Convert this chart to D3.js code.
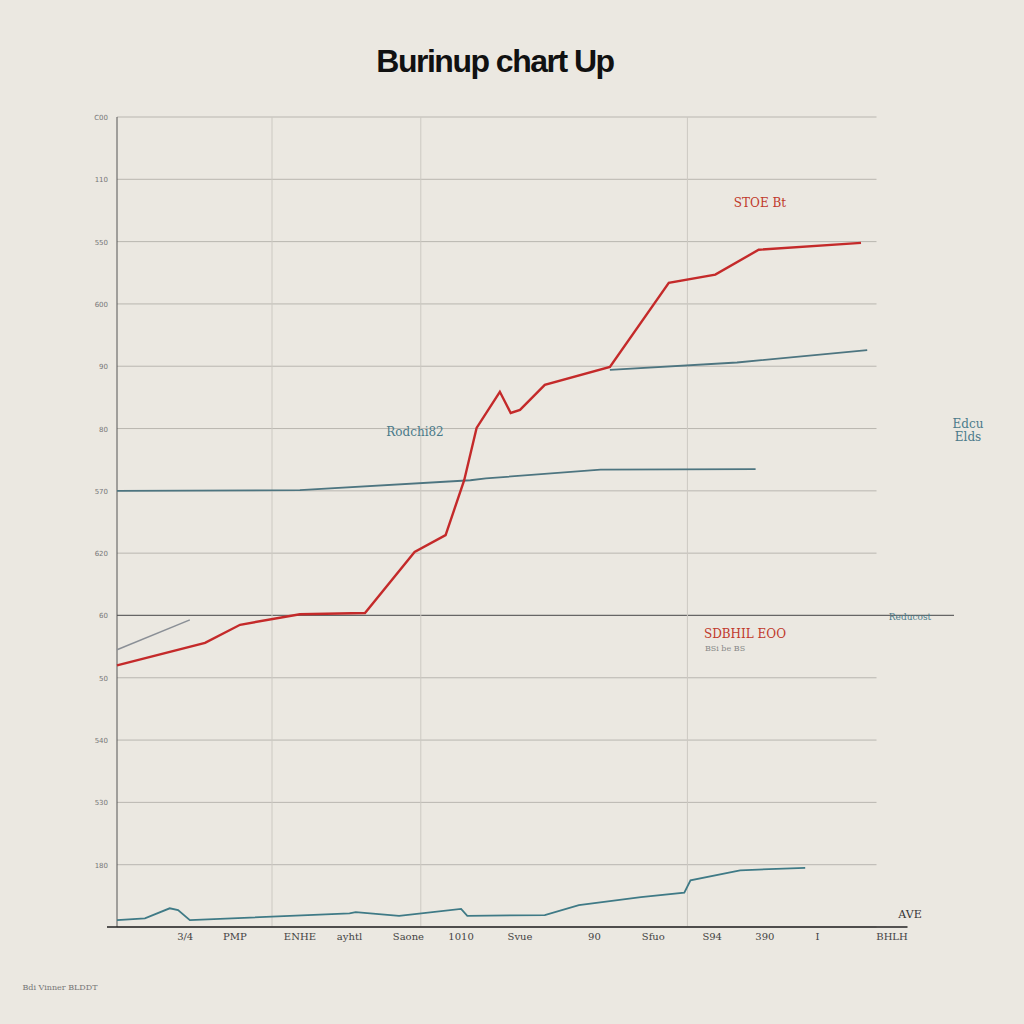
<!DOCTYPE html>
<html><head><meta charset="utf-8">
<script src="https://cdn.jsdelivr.net/npm/d3@7"></script>
<style>body{margin:0;background:#ebe8e1}</style></head>
<body><svg id="c" width="1024" height="1024"></svg>
<script>
const redSeries=[[0,42],[2.84,45.6],[3.97,48.5],[5.9,50.2],[8,50.4],[9.6,60.2],[10.6,62.9],[11.2,71.7],[11.6,80.1],[12.35,85.9],[12.7,82.5],[13,83],[13.8,87],[15.9,89.9],[17.8,103.4],[19.3,104.7],[20.7,108.7],[24,109.8]];
const tealUpper=[[15.9,89.4],[20,90.6],[24.2,92.6]];
const tealMiddle=[[0,70],[5.9,70.1],[11.4,71.7],[11.9,72],[15.6,73.4],[20.6,73.5]];
const tealBottom=[[0,1.1],[0.9,1.4],[1.7,3],[1.97,2.7],[2.35,1.1],[7.5,2.2],[7.7,2.4],[9.1,1.8],[11.1,2.9],[11.3,1.8],[13.8,1.9],[14.9,3.5],[16.9,4.8],[18.3,5.5],[18.5,7.5],[20.1,9.1],[22.2,9.5]];
const greySeries=[[0,44.5],[2.35,49.3]];
const gridY=[0,10,20,30,40,50,60,70,80,90,100,110,120,130];
const yTickLabels=["","180","530","540","50","60","620","570","80","90","600","550","110","C00"];
const gridX=[5,9.8,18.4];
const xTickLabels=[[2.2,"3/4"],[3.8,"PMP"],[5.9,"ENHE"],[7.5,"ayhtl"],[9.4,"Saone"],[11.1,"1010"],[13,"Svue"],[15.4,"90"],[17.3,"Sfuo"],[19.2,"S94"],[20.9,"390"],[22.6,"I"],[25,"BHLH"]];
const svg=d3.select("#c");
const x=d3.scaleLinear().domain([0,25]).range([117,892]);
const y=d3.scaleLinear().domain([0,130]).range([927,117]);
svg.append("text").attr("x",495).attr("y",72).attr("text-anchor","middle").attr("font-family","Liberation Sans").attr("font-weight","bold").attr("font-size",32).attr("letter-spacing","-1.5").attr("fill","#111").text("Burinup chart Up");
const g=svg.append("g");
gridY.forEach((v,i)=>{g.append("line").attr("x1",x(0)).attr("x2",i==5?x(27):x(24.5)).attr("y1",y(v)).attr("y2",y(v)).attr("stroke",i==5?"#666":"#b9b6b0").attr("stroke-width",i==5?1.2:1);
 g.append("text").attr("x",108).attr("y",y(v)+3).attr("text-anchor","end").attr("font-size",7).attr("font-family","DejaVu Sans").attr("fill","#777").text(yTickLabels[i]);});
gridX.forEach(v=>g.append("line").attr("x1",x(v)).attr("x2",x(v)).attr("y1",y(130)).attr("y2",y(0)).attr("stroke","#ccc9c2"));
g.append("line").attr("x1",x(0)).attr("x2",x(0)).attr("y1",y(130)).attr("y2",y(0)).attr("stroke","#555");
g.append("line").attr("x1",107).attr("x2",x(25.5)).attr("y1",y(0)).attr("y2",y(0)).attr("stroke","#222").attr("stroke-width",1.5);
xTickLabels.forEach(([v,t])=>g.append("text").attr("x",x(v)).attr("y",940).attr("text-anchor","middle").attr("font-size",10).attr("font-family","DejaVu Serif").attr("fill","#444").text(t));
const line=d3.line().x(d=>x(d[0])).y(d=>y(d[1]));
[[greySeries,"#8a8f96",1.5],[tealMiddle,"#4d7580",1.8],[tealUpper,"#4d7580",1.8],[tealBottom,"#3f7a86",1.8],[redSeries,"#c42a2a",2.4]].forEach(([d,c,w])=>g.append("path").attr("d",line(d)).attr("fill","none").attr("stroke",c).attr("stroke-width",w));
const ann=[[760,207,"STOE Bt","#c0392b",12],[415,436,"Rodchi82","#4a7a8a",12],[745,638,"SDBHIL EOO","#c0392b",12],[725,651,"BSi be BS","#888",8],[968,428,"Edcu","#4a7a8a",12],[968,441,"Elds","#4a7a8a",12],[910,620,"Reducost","#4a7a8a",9],[910,918,"AVE","#333",11],[60,990,"Bdi Vinner BLDDT","#777",8]];
ann.forEach(([a,b,t,c,s])=>svg.append("text").attr("x",a).attr("y",b).attr("text-anchor","middle").attr("font-family","DejaVu Serif").attr("font-size",s).attr("fill",c).text(t));
</script></body></html>
